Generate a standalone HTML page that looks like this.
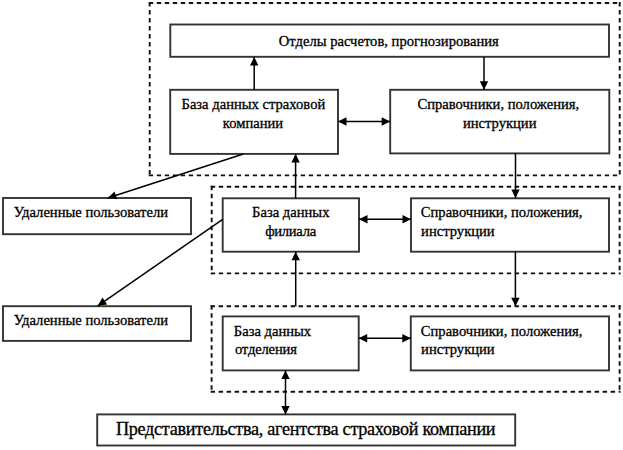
<!DOCTYPE html>
<html><head><meta charset="utf-8"><style>
html,body{margin:0;padding:0;background:#fff;}
svg{display:block;}
text{font-family:"Liberation Serif",serif;fill:#000;stroke:#000;stroke-width:0.3px;}
</style></head><body>
<svg width="623" height="450" viewBox="0 0 623 450">
<rect width="623" height="450" fill="#fff"/>
<path d="M148.75,3 H620.65" fill="none" stroke="#111" stroke-width="1.9" stroke-dasharray="4.4 3.6"/>
<path d="M619.7,2.05 V176.35" fill="none" stroke="#111" stroke-width="1.9" stroke-dasharray="4.4 3.6"/>
<path d="M148.75,175.4 H620.65" fill="none" stroke="#111" stroke-width="1.9" stroke-dasharray="4.4 3.6"/>
<path d="M149.7,2.05 V176.35" fill="none" stroke="#111" stroke-width="1.9" stroke-dasharray="4.4 3.6"/>
<path d="M210.75,186.7 H620.55" fill="none" stroke="#111" stroke-width="1.9" stroke-dasharray="4.4 3.6"/>
<path d="M619.6,185.75 V274.35" fill="none" stroke="#111" stroke-width="1.9" stroke-dasharray="4.4 3.6"/>
<path d="M210.75,273.4 H620.55" fill="none" stroke="#111" stroke-width="1.9" stroke-dasharray="4.4 3.6"/>
<path d="M211.7,185.75 V274.35" fill="none" stroke="#111" stroke-width="1.9" stroke-dasharray="4.4 3.6"/>
<path d="M210.65,306.3 H620.55" fill="none" stroke="#111" stroke-width="1.9" stroke-dasharray="4.4 3.6"/>
<path d="M619.6,305.35 V392.65" fill="none" stroke="#111" stroke-width="1.9" stroke-dasharray="4.4 3.6"/>
<path d="M210.65,391.7 H620.55" fill="none" stroke="#111" stroke-width="1.9" stroke-dasharray="4.4 3.6"/>
<path d="M211.6,305.35 V392.65" fill="none" stroke="#111" stroke-width="1.9" stroke-dasharray="4.4 3.6"/>
<rect x="170.3" y="24.5" width="438.70" height="32.30" fill="none" stroke="#333" stroke-width="1.9"/>
<rect x="170.2" y="89.8" width="167.80" height="64.10" fill="none" stroke="#333" stroke-width="1.9"/>
<rect x="390.2" y="89.8" width="219.10" height="63.60" fill="none" stroke="#333" stroke-width="1.9"/>
<rect x="3" y="198" width="188.00" height="36.20" fill="none" stroke="#333" stroke-width="1.9"/>
<rect x="222.7" y="198.3" width="136.30" height="53.40" fill="none" stroke="#333" stroke-width="1.9"/>
<rect x="411" y="198.3" width="198.00" height="53.40" fill="none" stroke="#333" stroke-width="1.9"/>
<rect x="3" y="306.2" width="188.00" height="34.70" fill="none" stroke="#333" stroke-width="1.9"/>
<rect x="222.7" y="316.4" width="136.00" height="54.00" fill="none" stroke="#333" stroke-width="1.9"/>
<rect x="410.8" y="316.4" width="198.20" height="54.00" fill="none" stroke="#333" stroke-width="1.9"/>
<rect x="97.2" y="414.4" width="418.00" height="31.10" fill="none" stroke="#333" stroke-width="1.9"/>
<line x1="254.2" y1="89.8" x2="254.2" y2="57" stroke="#000" stroke-width="1.5"/>
<polygon points="254.20,57.00 258.40,65.50 250.00,65.50" fill="#000"/>
<line x1="484" y1="57" x2="484" y2="89.8" stroke="#000" stroke-width="1.5"/>
<polygon points="484.00,89.80 479.80,81.30 488.20,81.30" fill="#000"/>
<line x1="338" y1="121.5" x2="390.2" y2="121.5" stroke="#000" stroke-width="1.5"/>
<polygon points="390.20,121.50 381.70,125.70 381.70,117.30" fill="#000"/>
<polygon points="338.00,121.50 346.50,117.30 346.50,125.70" fill="#000"/>
<line x1="515.5" y1="153.5" x2="515.5" y2="198" stroke="#000" stroke-width="1.5"/>
<polygon points="515.50,198.00 511.30,189.50 519.70,189.50" fill="#000"/>
<line x1="243.3" y1="154" x2="107.8" y2="198" stroke="#000" stroke-width="1.5"/>
<polygon points="107.80,198.00 114.59,191.38 117.18,199.37" fill="#000"/>
<line x1="295.6" y1="198.3" x2="295.6" y2="153.9" stroke="#000" stroke-width="1.5"/>
<polygon points="295.60,153.90 299.80,162.40 291.40,162.40" fill="#000"/>
<line x1="359" y1="219.2" x2="411" y2="219.2" stroke="#000" stroke-width="1.5"/>
<polygon points="411.00,219.20 402.50,223.40 402.50,215.00" fill="#000"/>
<polygon points="359.00,219.20 367.50,215.00 367.50,223.40" fill="#000"/>
<line x1="515.4" y1="251.7" x2="515.4" y2="306.3" stroke="#000" stroke-width="1.5"/>
<polygon points="515.40,306.30 511.20,297.80 519.60,297.80" fill="#000"/>
<line x1="222.7" y1="219.4" x2="97.8" y2="305.8" stroke="#000" stroke-width="1.5"/>
<polygon points="97.80,305.80 102.40,297.51 107.18,304.42" fill="#000"/>
<line x1="295.7" y1="306.3" x2="295.7" y2="251.7" stroke="#000" stroke-width="1.5"/>
<polygon points="295.70,251.70 299.90,260.20 291.50,260.20" fill="#000"/>
<line x1="358.7" y1="338.3" x2="410.8" y2="338.3" stroke="#000" stroke-width="1.5"/>
<polygon points="410.80,338.30 402.30,342.50 402.30,334.10" fill="#000"/>
<polygon points="358.70,338.30 367.20,334.10 367.20,342.50" fill="#000"/>
<line x1="285.5" y1="370.4" x2="285.5" y2="414.4" stroke="#000" stroke-width="1.5"/>
<polygon points="285.50,414.40 281.30,405.90 289.70,405.90" fill="#000"/>
<polygon points="285.50,370.40 289.70,378.90 281.30,378.90" fill="#000"/>
<text x="278.8" y="45.5" font-size="14.6" text-anchor="start">Отделы расчетов, прогнозирования</text>
<text x="181.5" y="108.5" font-size="14.6" text-anchor="start">База данных страховой</text>
<text x="222.8" y="127.7" font-size="14.6" text-anchor="start">компании</text>
<text x="417.5" y="108.6" font-size="14.6" text-anchor="start">Справочники, положения,</text>
<text x="462.9" y="127.9" font-size="14.6" text-anchor="start">инструкции</text>
<text x="13.8" y="216.9" font-size="14.6" text-anchor="start">Удаленные пользователи</text>
<text x="252.1" y="216.6" font-size="14.6" text-anchor="start">База данных</text>
<text x="265.2" y="236.0" font-size="14.6" text-anchor="start" letter-spacing="-0.3">филиала</text>
<text x="420.8" y="216.6" font-size="14.6" text-anchor="start">Справочники, положения,</text>
<text x="421.1" y="235.9" font-size="14.6" text-anchor="start">инструкции</text>
<text x="13.8" y="325.2" font-size="14.6" text-anchor="start">Удаленные пользователи</text>
<text x="233.8" y="336.4" font-size="14.6" text-anchor="start">База данных</text>
<text x="234.9" y="354.0" font-size="14.6" text-anchor="start" letter-spacing="-0.15">отделения</text>
<text x="420.8" y="336.3" font-size="14.6" text-anchor="start">Справочники, положения,</text>
<text x="421.1" y="354.0" font-size="14.6" text-anchor="start">инструкции</text>
<text x="115.9" y="435.4" font-size="18.2" text-anchor="start" letter-spacing="-0.29">Представительства, агентства страховой компании</text>
</svg>
</body></html>
